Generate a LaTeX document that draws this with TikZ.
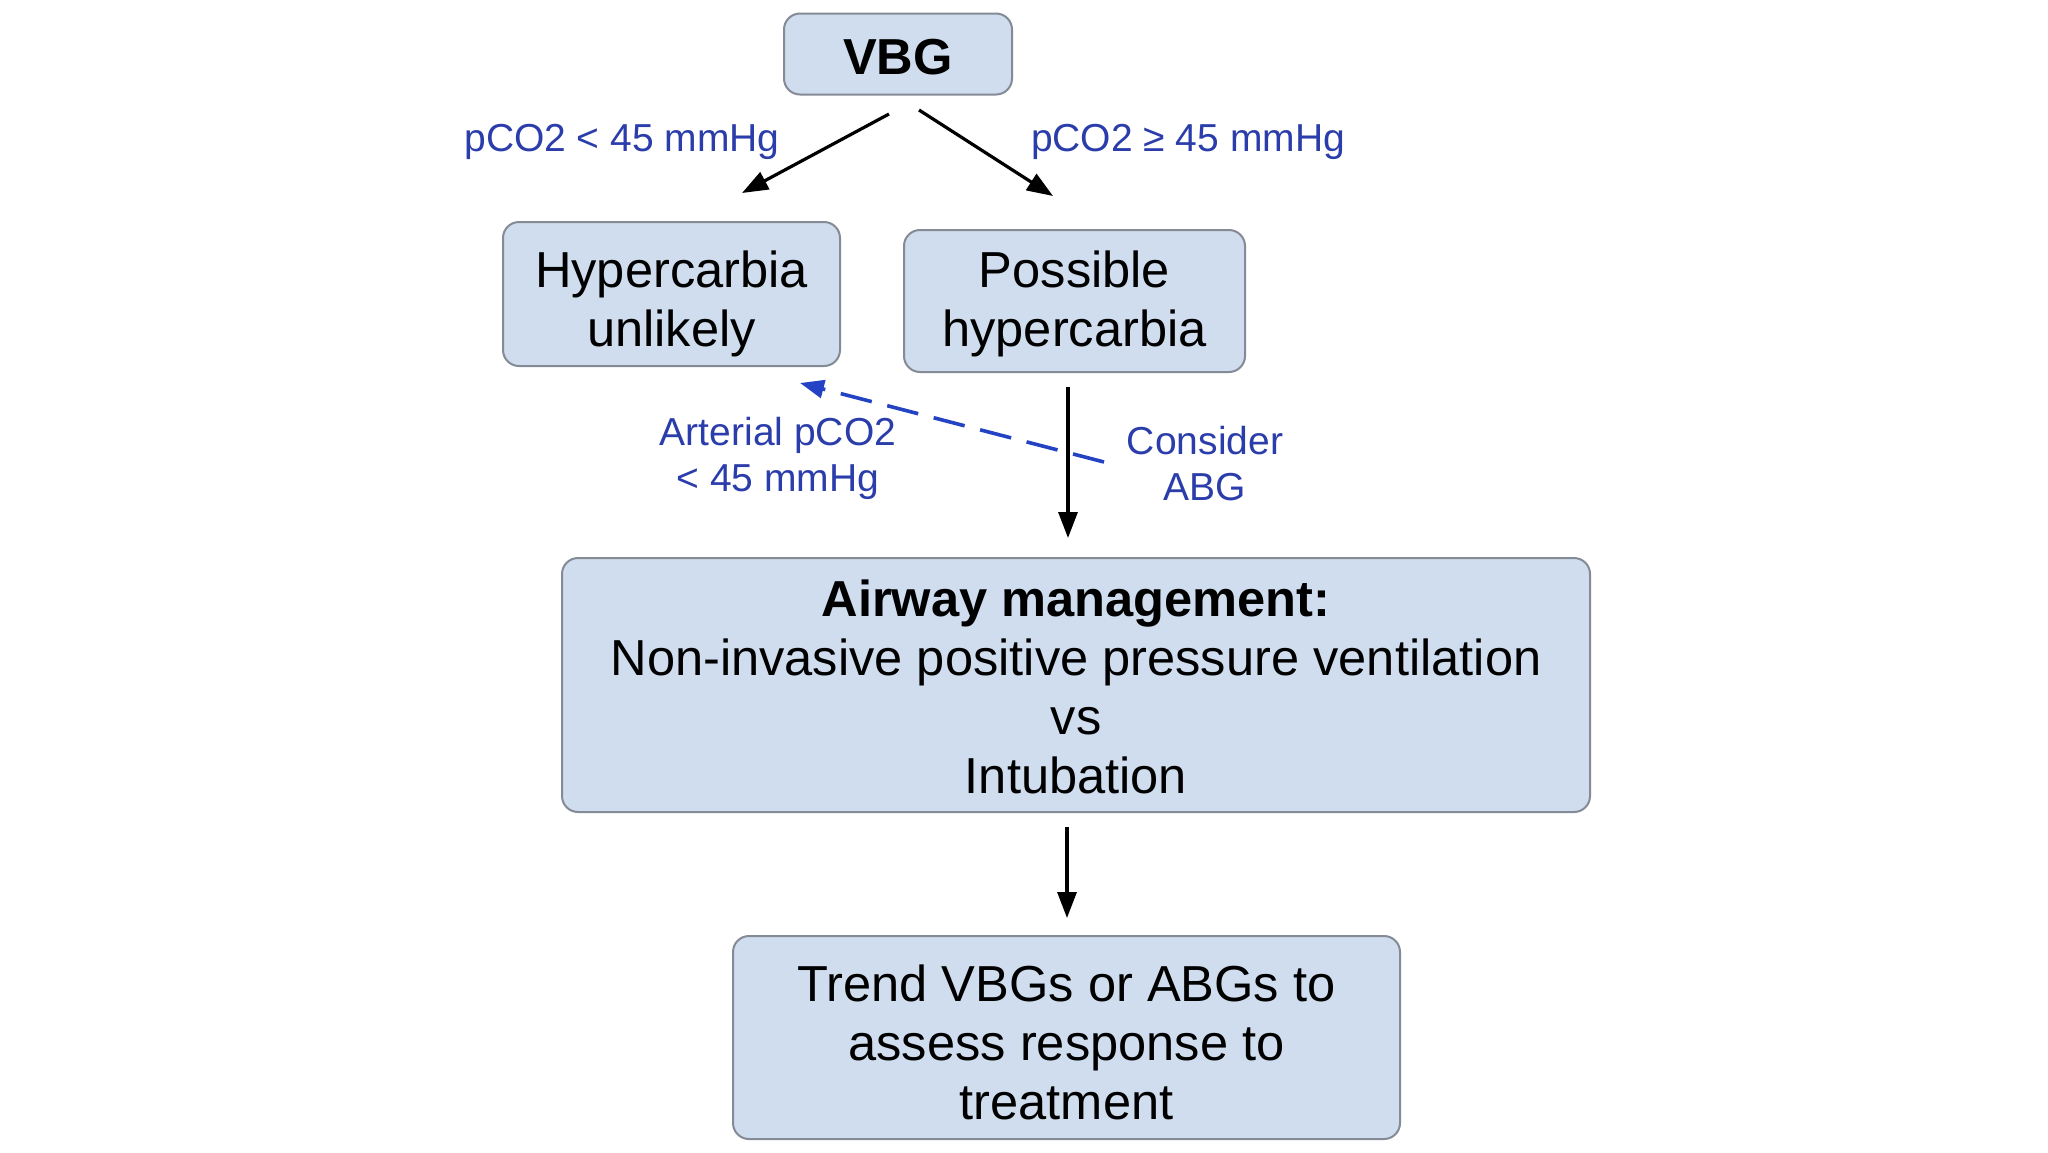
\documentclass[tikz,border=0pt]{standalone}
\usepackage{fontspec}
\setmainfont{Liberation Sans}
\usetikzlibrary{arrows.meta}
\definecolor{boxfill}{HTML}{CFDDEE}
\definecolor{boxline}{HTML}{858B96}
\definecolor{lblblue}{HTML}{2B3DAA}
\definecolor{dashblue}{HTML}{2442C4}
\tikzset{
  flowbox/.style={draw=boxline, line width=1pt, fill=boxfill, rounded corners=8pt, inner sep=0pt},
  boxtext/.style={align=center, font=\fontsize{25.3}{29.5}\selectfont, inner sep=0pt},
  lbl/.style={text=lblblue, align=center, font=\fontsize{19.5}{23}\selectfont, inner sep=0pt},
  arr/.style={line width=1.6pt, -{Triangle[length=13pt,width=9.5pt]}},
  dasharr/.style={dashblue, line width=1.8pt, dash pattern=on 16pt off 8pt, -{Triangle[length=12pt,width=9pt]}}
}
\begin{document}
\begin{tikzpicture}[x=0.5pt,y=-0.5pt]
\useasboundingbox[fill=white] (0,0) rectangle (2048,1152);
\node[flowbox, minimum width=114pt, minimum height=40.5pt,
  label={[boxtext, yshift=-1.3pt]center:\textbf{VBG}}] (vbg) at (898,54) {};
\node[flowbox, minimum width=168.5pt, minimum height=72pt,
  label={[boxtext, yshift=-5pt]center:{Hypercarbia\\unlikely}}] (hu) at (671.5,294) {};
\node[flowbox, minimum width=170.5pt, minimum height=71pt,
  label={[boxtext, yshift=-1.6pt]center:{Possible\\hypercarbia}}] (ph) at (1074.5,301) {};
\node[flowbox, minimum width=514pt, minimum height=127pt,
  label={[boxtext, yshift=-0.7pt]center:{\textbf{Airway management:}\\Non-invasive positive pressure ventilation\\vs\\Intubation}}] (air) at (1076,685) {};
\node[flowbox, minimum width=333.5pt, minimum height=101.5pt,
  label={[boxtext, yshift=-2.6pt]center:{Trend VBGs or ABGs to\\assess response to\\treatment}}] (trend) at (1066.5,1037.5) {};
\node[lbl] (l1) at (622,142) {pCO2 < 45 mmHg};
\node[lbl] (l2) at (1188,142) {pCO2 ≥ 45 mmHg};
\node[lbl] (art) at (778,458) {Arterial pCO2\\< 45 mmHg};
\node[lbl] (cons) at (1205,464) {Consider\\ABG};
\coordinate (a1s) at (889,114);
\coordinate (a1e) at (742,193);
\coordinate (a2s) at (919,110);
\coordinate (a2e) at (1053,196);
\coordinate (a3s) at (1068,387);
\coordinate (a3e) at (1068,538);
\coordinate (a4s) at (1067,827);
\coordinate (a4e) at (1067,918);
\coordinate (ds) at (1104,462);
\coordinate (de) at (800,383);
\draw[arr] (a1s) -- (a1e);
\draw[arr] (a2s) -- (a2e);
\draw[arr] (a3s) -- (a3e);
\draw[arr] (a4s) -- (a4e);
\draw[dasharr] (ds) -- (de);
\end{tikzpicture}
\end{document}
